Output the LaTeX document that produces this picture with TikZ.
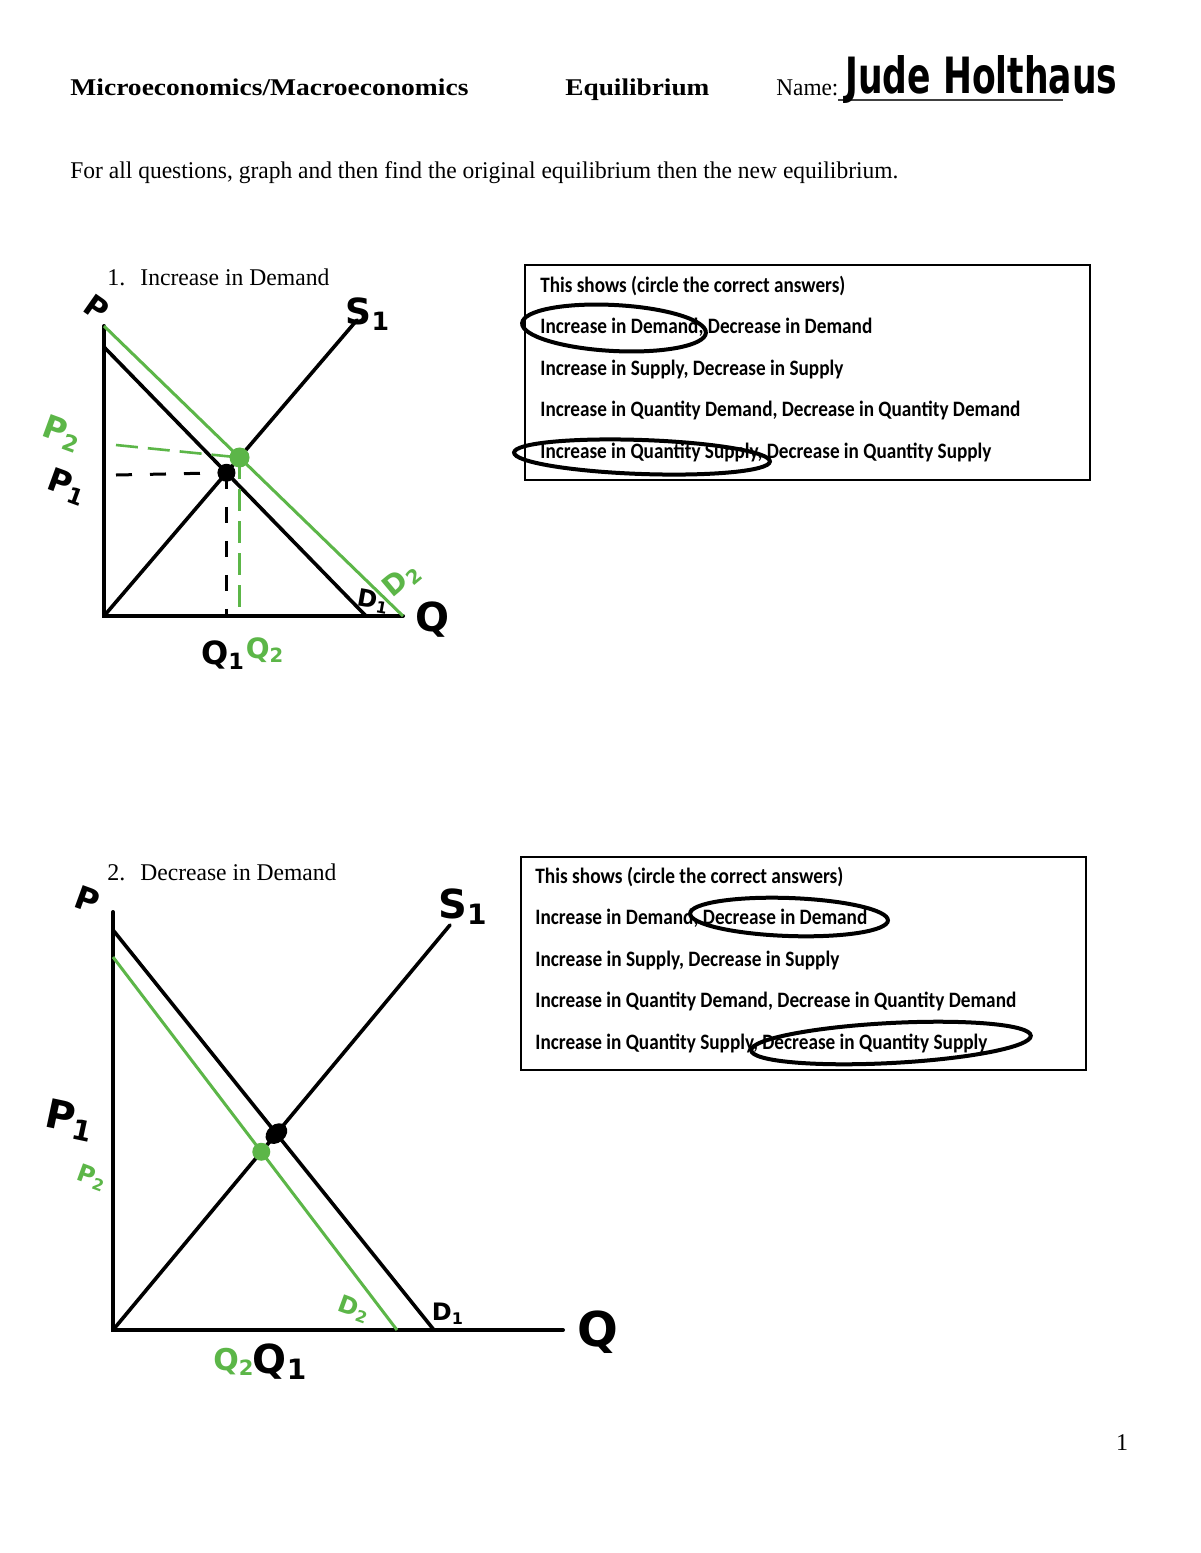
\documentclass[tikz,border=0pt]{standalone}
\usepackage{fontspec}
\usepackage{graphicx}
\setmainfont{Liberation Serif}
\newfontfamily\boxfont{Carlito}
\newfontfamily\hand{DejaVu Sans}
\definecolor{mygreen}{RGB}{92,182,72}
\newcommand{\fitw}[2]{\resizebox{#1}{\height}{#2}}
\newcommand{\hsz}[1]{\fontsize{#1}{#1}\selectfont}
\begin{document}
\begin{tikzpicture}[x=0.5pt,y=-0.5pt,
  txt/.style={anchor=base west,inner sep=0pt,font=\fontsize{12}{14}\selectfont},
  btxt/.style={anchor=base west,inner sep=0pt,font=\boxfont\bfseries\fontsize{11}{13}\selectfont},
  hw/.style={inner sep=0pt,font=\hand\bfseries},
  hwg/.style={hw,text=mygreen},
  axisline/.style={line width=2pt,line cap=round},
  curve/.style={line width=1.8pt,line cap=round},
  gcurve/.style={line width=1.5pt,mygreen},
  bdash/.style={line width=1.5pt,dash pattern=on 8pt off 9pt},
  gdash/.style={line width=1.3pt,mygreen,dash pattern=on 11pt off 5pt},
  answerbox/.style={draw,line width=1pt},
  handcirc/.style={line width=2pt}
]
\fill[white] (0,0) rectangle (1200,1553);
\useasboundingbox (0,0) rectangle (1200,1553);

% header
\node[txt,font=\bfseries\fontsize{12}{14}\selectfont] (title) at (70,95) {\fitw{199pt}{Microeconomics/Macroeconomics}};
\node[txt,font=\bfseries\fontsize{12}{14}\selectfont] (eq) at (565,95) {\fitw{72pt}{Equilibrium}};
\node[txt] (namelbl) at (776,95) {\fitw{31pt}{Name:}};
\coordinate (ul1) at (838,100);
\coordinate (ul2) at (1063,100);
\draw[line width=1pt,black!75] (ul1) -- (ul2);
\node[anchor=base west,inner sep=0pt,font=\hand\bfseries\hsz{25}] (name) at (845,93) {\fitw{136pt}{Jude Holthaus}};
\node[txt] (intro) at (70,178) {\fitw{414pt}{For all questions, graph and then find the original equilibrium then the new equilibrium.}};

% ================= Question 1 =================
\node[txt] (q1num) at (107,285) {1.};
\node[txt] (q1t) at (140,285) {\fitw{94.5pt}{Increase in Demand}};

\coordinate (Ptop1) at (104,326);
\coordinate (O1) at (104,616);
\coordinate (Qend1) at (403,616);
\coordinate (Stop1) at (357,320);
\coordinate (D1a) at (104,347);
\coordinate (D1b) at (366,616);
\coordinate (D2a) at (104,326);
\coordinate (D2b) at (403,616);
\draw[axisline] (Ptop1) -- (O1) -- (Qend1);
\draw[curve] (O1) -- (Stop1);
\draw[curve] (D1a) -- (D1b);
\draw[gcurve] (D2a) -- (D2b);
\coordinate (E1) at (intersection of O1--Stop1 and D1a--D1b);
\coordinate (E2) at (intersection of O1--Stop1 and D2a--D2b);
\coordinate (p1s) at (116,475);
\coordinate (p2s) at (116,445);
\draw[bdash] (p1s) -- (E1);
\draw[bdash] (E1) -- (E1 |- O1);
\draw[gdash] (p2s) -- (E2);
\draw[gdash] (E2) -- (E2 |- O1);
\fill (E1) circle (4.5pt);
\fill[mygreen] (E2) circle (5pt);

\node[hw,rotate=-35,font=\hand\bfseries\hsz{15}] (lP1) at (97,308) {P};
\node[hw,font=\hand\bfseries\hsz{18}] (lS1) at (368,314) {S\textsubscript{1}};
\node[hwg,rotate=-20,font=\hand\bfseries\hsz{16}] (lP2a) at (62,434) {P\textsubscript{2}};
\node[hw,rotate=-20,font=\hand\bfseries\hsz{16}] (lP1a) at (67,487) {P\textsubscript{1}};
\node[hw,font=\hand\bfseries\hsz{16}] (lQ1a) at (223,655) {Q\textsubscript{1}};
\node[hwg,font=\hand\bfseries\hsz{14}] (lQ2a) at (265,650) {Q\textsubscript{2}};
\node[hw,rotate=-10,font=\hand\bfseries\hsz{12}] (lD1a) at (373,601) {D\textsubscript{1}};
\node[hwg,rotate=40,font=\hand\bfseries\hsz{14}] (lD2a) at (402,580) {D\textsubscript{2}};
\node[hw,font=\hand\bfseries\hsz{20}] (lQa) at (432,620) {Q};

% answer box 1
\draw[answerbox] (525,265) rectangle (1090,480);
\node[btxt] (b1l1) at (540,292) {\fitw{152.5pt}{This shows (circle the correct answers)}};
\node[btxt] (b1l2) at (540,333) {\fitw{166pt}{Increase in Demand, Decrease in Demand}};
\node[btxt] (b1l3) at (540,375) {\fitw{151.5pt}{Increase in Supply, Decrease in Supply}};
\node[btxt] (b1l4) at (540,416) {\fitw{240pt}{Increase in Quantity Demand, Decrease in Quantity Demand}};
\node[btxt] (b1l5) at (540,458) {\fitw{225.5pt}{Increase in Quantity Supply, Decrease in Quantity Supply}};
\draw[handcirc,rotate around={-3:(614,328)}] (614,328) ellipse [x radius=46pt, y radius=11.5pt];
\draw[handcirc,rotate around={-2:(642,457)}] (642,457) ellipse [x radius=64pt, y radius=8.5pt];

% ================= Question 2 =================
\node[txt] (q2num) at (107,880) {2.};
\node[txt] (q2t) at (140,880) {\fitw{98pt}{Decrease in Demand}};

\coordinate (Ptop2) at (113,912);
\coordinate (O2) at (113,1330);
\coordinate (Qend2) at (563,1330);
\coordinate (Stop2) at (450,925);
\coordinate (D1a2) at (113,930);
\coordinate (D1b2) at (434,1330);
\coordinate (D2a2) at (113,957);
\coordinate (D2b2) at (397,1330);
\draw[axisline] (Ptop2) -- (O2) -- (Qend2);
\draw[curve] (O2) -- (Stop2);
\draw[curve] (D1a2) -- (D1b2);
\draw[gcurve] (D2a2) -- (D2b2);
\coordinate (F1) at (intersection of O2--Stop2 and D1a2--D1b2);
\coordinate (F2) at (intersection of O2--Stop2 and D2a2--D2b2);
\fill[rotate around={40:(F1)}] (F1) ellipse [x radius=6pt, y radius=4.5pt];
\fill[mygreen] (F2) circle (4.5pt);

\node[hw,rotate=-20,font=\hand\bfseries\hsz{16}] (lP2) at (88,900) {P};
\node[hw,font=\hand\bfseries\hsz{20}] (lS2) at (463,907) {S\textsubscript{1}};
\node[hw,rotate=-12,font=\hand\bfseries\hsz{20}] (lP1b) at (70,1120) {P\textsubscript{1}};
\node[hwg,rotate=-20,font=\hand\bfseries\hsz{12}] (lP2b) at (92,1178) {P\textsubscript{2}};
\node[hwg,rotate=-20,font=\hand\bfseries\hsz{12}] (lD2b) at (354,1309) {D\textsubscript{2}};
\node[hw,font=\hand\bfseries\hsz{12}] (lD1b) at (448,1314) {D\textsubscript{1}};
\node[hw,font=\hand\bfseries\hsz{24}] (lQb) at (598,1332) {Q};
\node[hwg,font=\hand\bfseries\hsz{15}] (lQ2b) at (234,1362) {Q\textsubscript{2}};
\node[hw,font=\hand\bfseries\hsz{20}] (lQ1b) at (280,1362) {Q\textsubscript{1}};

% answer box 2
\draw[answerbox] (521,857) rectangle (1086,1070);
\node[btxt] (b2l1) at (535,883) {\fitw{154pt}{This shows (circle the correct answers)}};
\node[btxt] (b2l2) at (535,924) {\fitw{166pt}{Increase in Demand, Decrease in Demand}};
\node[btxt] (b2l3) at (535,966) {\fitw{152pt}{Increase in Supply, Decrease in Supply}};
\node[btxt] (b2l4) at (535,1007) {\fitw{240.5pt}{Increase in Quantity Demand, Decrease in Quantity Demand}};
\node[btxt] (b2l5) at (535,1049) {\fitw{226pt}{Increase in Quantity Supply, Decrease in Quantity Supply}};
\draw[handcirc,rotate around={-2:(789,917)}] (789,917) ellipse [x radius=49.5pt, y radius=9.5pt];
\draw[handcirc,rotate around={3:(891,1043)}] (891,1043) ellipse [x radius=70pt, y radius=10pt];

% page number
\node[txt,anchor=center] (pnum) at (1122,1443) {1};
\end{tikzpicture}
\end{document}
